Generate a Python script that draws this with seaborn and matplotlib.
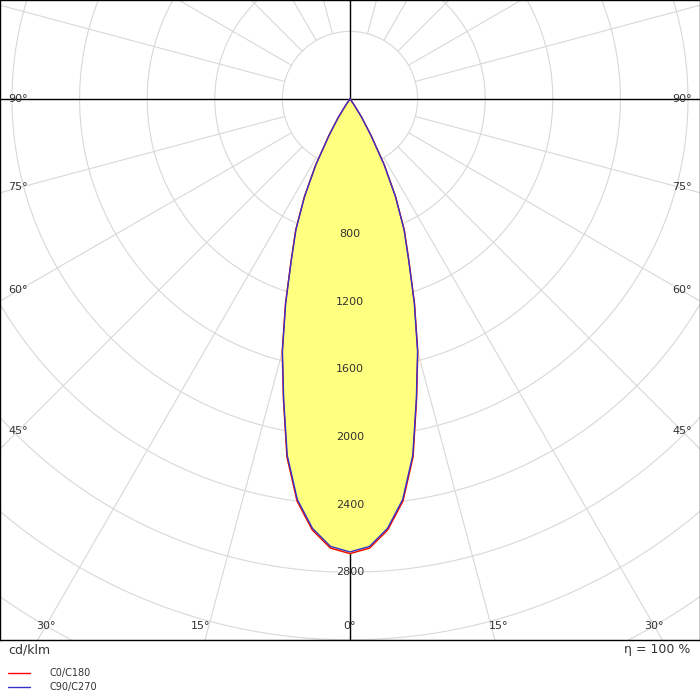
import numpy as np
import pandas as pd
import seaborn as sns
from matplotlib import pyplot as plt

# luminous intensity, cd/klm
angles_deg = [0, 2.5, 5, 7.5, 10, 12.5, 15, 17.5, 20, 22.5, 25, 27.5, 30, 32.5, 35, 37.5, 40, 90]
c0_c180 = [2690, 2660, 2560, 2400, 2150, 1820, 1550, 1270, 1020, 840, 640, 440, 250, 130, 40, 5, 0, 0]
c90_c270 = [2680, 2650, 2550, 2390, 2140, 1815, 1545, 1265, 1015, 835, 635, 435, 245, 128, 40, 5, 0, 0]
ring_values = [800, 1200, 1600, 2000, 2400, 2800]
edge_labels = ['0°', '15°', '30°', '45°', '60°', '75°', '90°']

sns.set_style("white")
plt.rcParams['font.family'] = ['DejaVu Sans']

px = 0.169  # pixels per cd
xmax = 350 / px
ytop = 99 / px
ybot = -541 / px

fig = plt.figure(figsize=(7, 7), dpi=100)
ax = fig.add_axes([0, 60 / 700, 1, 640 / 700])
ax.set_xlim(-xmax, xmax)
ax.set_ylim(ybot, ytop)
ax.set_xticks([]); ax.set_yticks([])
for s in ax.spines.values():
    s.set_color('black'); s.set_linewidth(1)

# grid circles
t = np.linspace(0, 2 * np.pi, 400)
for r in range(400, 4400, 400):
    ax.plot(r * np.cos(t), r * np.sin(t), color='#d8d8d8', lw=0.8, zorder=1)
# radial lines
for a in range(0, 360, 15):
    ar = np.radians(a)
    ax.plot([400 * np.sin(ar), 5000 * np.sin(ar)], [-400 * np.cos(ar), -5000 * np.cos(ar)],
            color='#d8d8d8', lw=0.8, zorder=1)
ax.axhline(0, color='black', lw=1, zorder=2)
ax.axvline(0, color='black', lw=1, zorder=2)

def curve(vals):
    th = np.radians(np.array(angles_deg, dtype=float))
    v = np.array(vals, dtype=float)
    th = np.concatenate([-th[::-1], th[1:]])
    v = np.concatenate([v[::-1], v[1:]])
    return pd.DataFrame({'x': v * np.sin(th), 'y': -v * np.cos(th)})

d0 = curve(c0_c180)
d90 = curve(c90_c270)
ax.fill(d0.x, d0.y, color='#ffff80', zorder=3)
sns.lineplot(data=d0, x='x', y='y', sort=False, estimator=None, color='red', lw=1, ax=ax, zorder=4)
sns.lineplot(data=d90, x='x', y='y', sort=False, estimator=None, color='#3333cc', lw=1, ax=ax, zorder=5)
ax.set_xlabel(''); ax.set_ylabel('')

for v in ring_values:
    ax.text(0, -v, str(v), ha='center', va='center', fontsize=8, color='#333333', zorder=6)

# angle labels near where radial lines meet the frame
side_lift = {45: 18, 60: 11, 75: 6, 90: 0}
for lab in edge_labels:
    a = int(lab[:-1])
    ar = np.radians(a)
    if a <= 30:
        xb = -ybot * np.tan(ar) - (8 / px if a == 30 else -4 / px if a == 15 else 0)
        for sx in ([1] if a == 0 else [-1, 1]):
            ax.text(sx * xb, ybot + 14 / px, lab,
                    ha='center', va='center', fontsize=8, color='#333333')
    else:
        yb = -xmax / np.tan(ar)
        for sx in [-1, 1]:
            ax.text(sx * (xmax - 18 / px), yb + side_lift[a] / px, lab,
                    ha='center', va='center', fontsize=8, color='#333333', zorder=6)

fig.text(8 / 700, 1 - 650 / 700, 'cd/klm', ha='left', va='center', fontsize=9, color='#333333')
fig.text(690 / 700, 1 - 650 / 700, 'η = 100 %', ha='right', va='center', fontsize=9, color='#333333')
fig.add_artist(plt.Line2D([8 / 700, 30 / 700], [1 - 673 / 700] * 2, color='red', lw=1))
fig.add_artist(plt.Line2D([8 / 700, 30 / 700], [1 - 687 / 700] * 2, color='#3333cc', lw=1))
fig.text(50 / 700, 1 - 673 / 700, 'C0/C180', ha='left', va='center', fontsize=7, color='#333333')
fig.text(50 / 700, 1 - 687 / 700, 'C90/C270', ha='left', va='center', fontsize=7, color='#333333')

fig.savefig('out.png', dpi=100)
